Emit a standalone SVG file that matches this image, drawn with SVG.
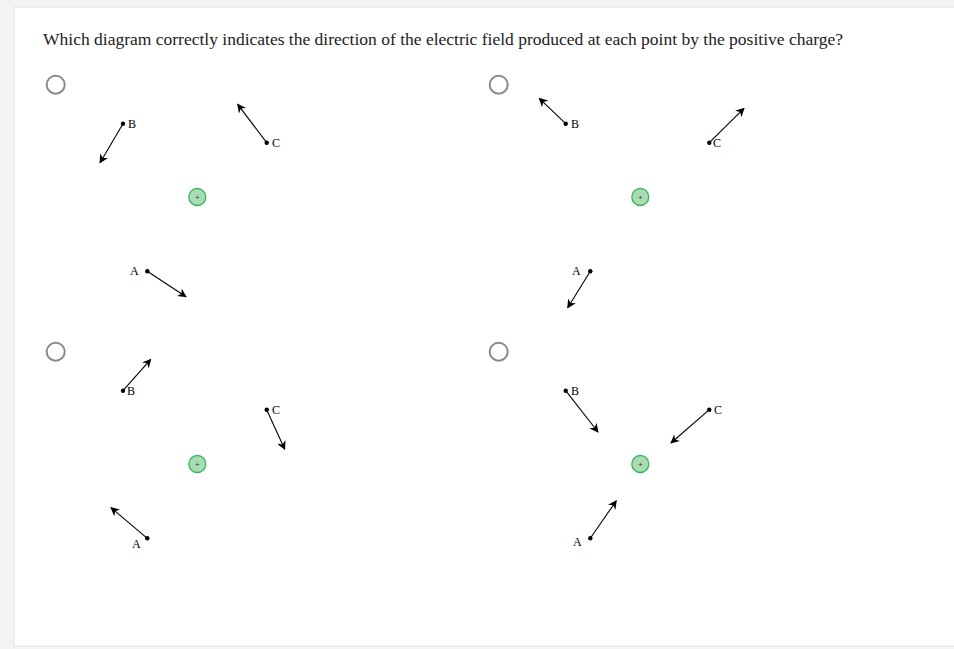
<svg xmlns="http://www.w3.org/2000/svg" width="954" height="649" viewBox="0 0 954 649">
<defs>
<marker id="ah" viewBox="0 0 10 10" refX="9" refY="5" markerWidth="9" markerHeight="9" markerUnits="userSpaceOnUse" orient="auto"><path d="M0,0 L10,5 L0,10 L3,5 Z" fill="#000"/></marker>
</defs>
<style>
.radio{fill:#fff;stroke:#8a8a8a;stroke-width:2}
.chg{fill:#a8dcb4;stroke:#3cb55a;stroke-width:1.3}
.pl{font-family:"Liberation Sans",sans-serif;font-size:8px;fill:#333;text-anchor:middle}
.lbl{font-family:"Liberation Serif",serif;font-size:12px;fill:#000}
.v{stroke:#000;stroke-width:1.1;marker-end:url(#ah)}
.dot{fill:#000}
.title{font-family:"Liberation Serif",serif;font-size:17.5px;fill:#222}
</style>
<rect width="954" height="649" fill="#f3f3f3"/>
<rect x="14" y="7" width="945" height="639" fill="#fff" stroke="#e2e2e2"/>
<text class="title" x="43" y="45">Which diagram correctly indicates the direction of the electric field produced at each point by the positive charge?</text>
<g id="radios">
<circle class="radio" cx="55.7" cy="84.7" r="9"/>
<circle class="radio" cx="498.7" cy="84.7" r="9"/>
<circle class="radio" cx="55.7" cy="351.7" r="9"/>
<circle class="radio" cx="498.7" cy="351.7" r="9"/>
</g>
<g id="charges">
<g id="q1"><circle class="chg" cx="197.3" cy="197" r="8.5"/><text class="pl" x="197.3" y="200">+</text></g>
<g id="q2"><circle class="chg" cx="640.3" cy="197" r="8.5"/><text class="pl" x="640.3" y="200">+</text></g>
<g id="q3"><circle class="chg" cx="197.3" cy="464" r="8.5"/><text class="pl" x="197.3" y="467">+</text></g>
<g id="q4"><circle class="chg" cx="640.3" cy="464" r="8.5"/><text class="pl" x="640.3" y="467">+</text></g>
</g>
<g id="points">
<circle class="dot" cx="123" cy="123.7" r="2.2"/><text class="lbl" x="128" y="128">B</text>
<circle class="dot" cx="266.7" cy="142.7" r="2.2"/><text class="lbl" x="272" y="147">C</text>
<circle class="dot" cx="147.3" cy="271.3" r="2.2"/><text class="lbl" x="130" y="275">A</text>
<circle class="dot" cx="565.7" cy="123.7" r="2.2"/><text class="lbl" x="571" y="128">B</text>
<circle class="dot" cx="709.3" cy="142.7" r="2.2"/><text class="lbl" x="713" y="147">C</text>
<circle class="dot" cx="590.3" cy="271.3" r="2.2"/><text class="lbl" x="572" y="275">A</text>
<circle class="dot" cx="123" cy="390.7" r="2.2"/><text class="lbl" x="127" y="395">B</text>
<circle class="dot" cx="266.7" cy="409.7" r="2.2"/><text class="lbl" x="272" y="414">C</text>
<circle class="dot" cx="147.3" cy="538.3" r="2.2"/><text class="lbl" x="132" y="548">A</text>
<circle class="dot" cx="565.7" cy="390.7" r="2.2"/><text class="lbl" x="571" y="395">B</text>
<circle class="dot" cx="709.3" cy="409.7" r="2.2"/><text class="lbl" x="714" y="414">C</text>
<circle class="dot" cx="590.3" cy="538.3" r="2.2"/><text class="lbl" x="573" y="546">A</text>
</g>
<g id="connectors">
<line class="v" x1="123" y1="123.7" x2="100" y2="162.7"/>
<line class="v" x1="266.7" y1="142.7" x2="237.7" y2="104.3"/>
<line class="v" x1="147.3" y1="271.3" x2="186" y2="296.7"/>
<line class="v" x1="565.7" y1="123.7" x2="539.3" y2="98.3"/>
<line class="v" x1="709.3" y1="142.7" x2="744" y2="108.3"/>
<line class="v" x1="590.3" y1="271.3" x2="567.7" y2="307.7"/>
<line class="v" x1="123" y1="390.7" x2="150.7" y2="359.3"/>
<line class="v" x1="266.7" y1="409.7" x2="284.7" y2="449.3"/>
<line class="v" x1="147.3" y1="538.3" x2="111" y2="507.7"/>
<line class="v" x1="565.7" y1="390.7" x2="598" y2="432"/>
<line class="v" x1="709.3" y1="409.7" x2="671" y2="443"/>
<line class="v" x1="590.3" y1="538.3" x2="616.3" y2="500.7"/>
</g>
</svg>
